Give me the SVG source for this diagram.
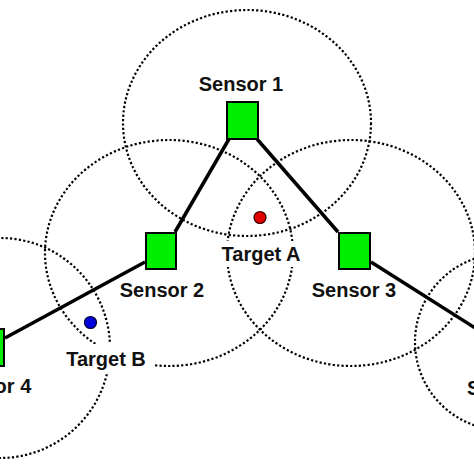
<svg xmlns="http://www.w3.org/2000/svg" width="474" height="474" viewBox="0 0 474 474">
  <style>
    .range { fill: none; stroke: #000; stroke-width: 2.2; stroke-dasharray: 2.2 2.2; }
    .link { stroke: #000; stroke-width: 3.5; fill: none; }
    .sensor { fill: #00ee00; stroke: #000; stroke-width: 2; }
    .label { font-family: "Liberation Sans", Arial, sans-serif; font-weight: bold; font-size: 20px; fill: #111; text-anchor: middle; }
    .mask { fill: #fff; stroke: none; }
  </style>
  <rect width="474" height="474" fill="#fff"/>
  <g id="ranges">
    <ellipse class="range" cx="247" cy="123" rx="124" ry="113"/>
    <ellipse class="range" cx="169" cy="253" rx="124" ry="113"/>
    <ellipse class="range" cx="351" cy="253" rx="124" ry="113"/>
    <circle class="range" cx="0" cy="348" r="110"/>
    <circle class="range" cx="503" cy="342" r="88"/>
  </g>
  <g id="connectors">
    <line class="link" x1="229" y1="139" x2="175" y2="232"/>
    <line class="link" x1="257" y1="139" x2="338" y2="232"/>
    <line class="link" x1="145" y1="262" x2="5" y2="338"/>
    <line class="link" x1="371" y1="262" x2="491" y2="338"/>
  </g>
  <g id="sensor1">
    <rect class="sensor" x="227" y="102" width="31" height="37"/>
    <text class="label" x="241" y="91">Sensor 1</text>
  </g>
  <g id="sensor2">
    <rect class="sensor" x="146" y="233" width="30" height="36"/>
    <text class="label" x="162" y="297">Sensor 2</text>
  </g>
  <g id="sensor3">
    <rect class="sensor" x="339" y="233" width="31" height="36"/>
    <text class="label" x="354" y="297">Sensor 3</text>
  </g>
  <g id="sensor4">
    <rect class="sensor" x="-26" y="329" width="30" height="37"/>
    <text class="label" x="-11" y="393">Sensor 4</text>
  </g>
  <g id="sensor5">
    <rect class="sensor" x="491" y="328" width="30" height="37"/>
    <text class="label" x="467" y="395" style="text-anchor:start">Sensor 5</text>
  </g>
  <g id="targetA">
    <circle cx="260" cy="217.5" r="6" fill="#e00000" stroke="#300" stroke-width="1.2"/>
    <rect class="mask" x="218" y="241" width="87" height="26"/>
    <text class="label" x="261" y="261">Target A</text>
  </g>
  <g id="targetB">
    <circle cx="90.5" cy="322.5" r="6" fill="#0000dd" stroke="#003" stroke-width="1.2"/>
    <rect class="mask" x="62" y="344" width="93" height="28"/>
    <text class="label" x="106" y="366">Target B</text>
  </g>
</svg>
